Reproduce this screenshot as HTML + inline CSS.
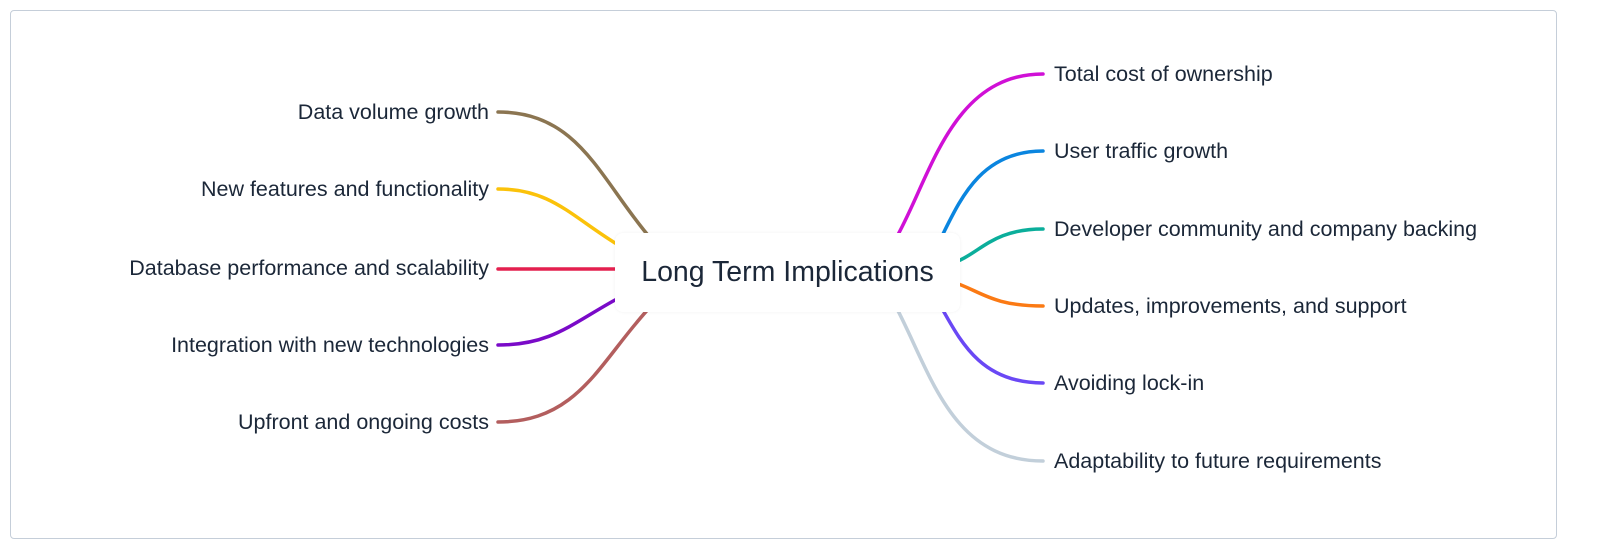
<!DOCTYPE html>
<html><head><style>
html,body{margin:0;padding:0;background:#fff;}
body{width:1600px;height:559px;position:relative;overflow:hidden;font-family:"Liberation Sans",sans-serif;color:#1b2738;}
.frame{position:absolute;left:10px;top:10px;width:1547px;height:529px;border:1.5px solid #c5ced9;border-radius:4px;box-sizing:border-box;}
.l{position:absolute;font-size:21.5px;white-space:nowrap;line-height:24px;}
.r{left:1054px;}
.lt{right:1111px;text-align:right;}
.box{position:absolute;left:615px;top:233px;width:345px;height:79px;background:#fff;border-radius:8px;box-shadow:0 0 3px rgba(0,0,0,0.06);display:flex;align-items:center;justify-content:center;font-size:28.5px;}
</style></head><body>
<div class="frame"></div>
<svg width="1600" height="559" style="position:absolute;left:0;top:0" fill="none" stroke-width="3.5" stroke-linecap="round">
<path d="M498 112 C580 112 600 180 652 240" stroke="#8b7551"/>
<path d="M498 189 C550 189 570 215 615 243" stroke="#fbc20a"/>
<path d="M498 269 L615 269" stroke="#e4204f"/>
<path d="M498 345 C550 345 570 325 615 300" stroke="#7a0ac8"/>
<path d="M498 422 C580 422 600 360 652 305" stroke="#b35e5e"/>
<path d="M1043 74 C950 74 930 180 895 240" stroke="#d010d6"/>
<path d="M1043 151 C980 151 960 200 940 240" stroke="#0a85df"/>
<path d="M1043 229 C990 229 980 255 950 264" stroke="#0bae9b"/>
<path d="M1043 306 C990 306 980 290 950 281" stroke="#fb7a14"/>
<path d="M1043 383 C980 383 960 340 940 305" stroke="#6a48f5"/>
<path d="M1043 461 C950 461 930 370 895 305" stroke="#c2cfda"/>
</svg>
<div class="box">Long Term Implications</div>
<div class="l lt" style="top:100px">Data volume growth</div>
<div class="l lt" style="top:177px">New features and functionality</div>
<div class="l lt" style="top:256px">Database performance and scalability</div>
<div class="l lt" style="top:333px">Integration with new technologies</div>
<div class="l lt" style="top:410px">Upfront and ongoing costs</div>
<div class="l r" style="top:62px">Total cost of ownership</div>
<div class="l r" style="top:139px">User traffic growth</div>
<div class="l r" style="top:217px">Developer community and company backing</div>
<div class="l r" style="top:294px">Updates, improvements, and support</div>
<div class="l r" style="top:371px">Avoiding lock-in</div>
<div class="l r" style="top:449px">Adaptability to future requirements</div>
</body></html>
